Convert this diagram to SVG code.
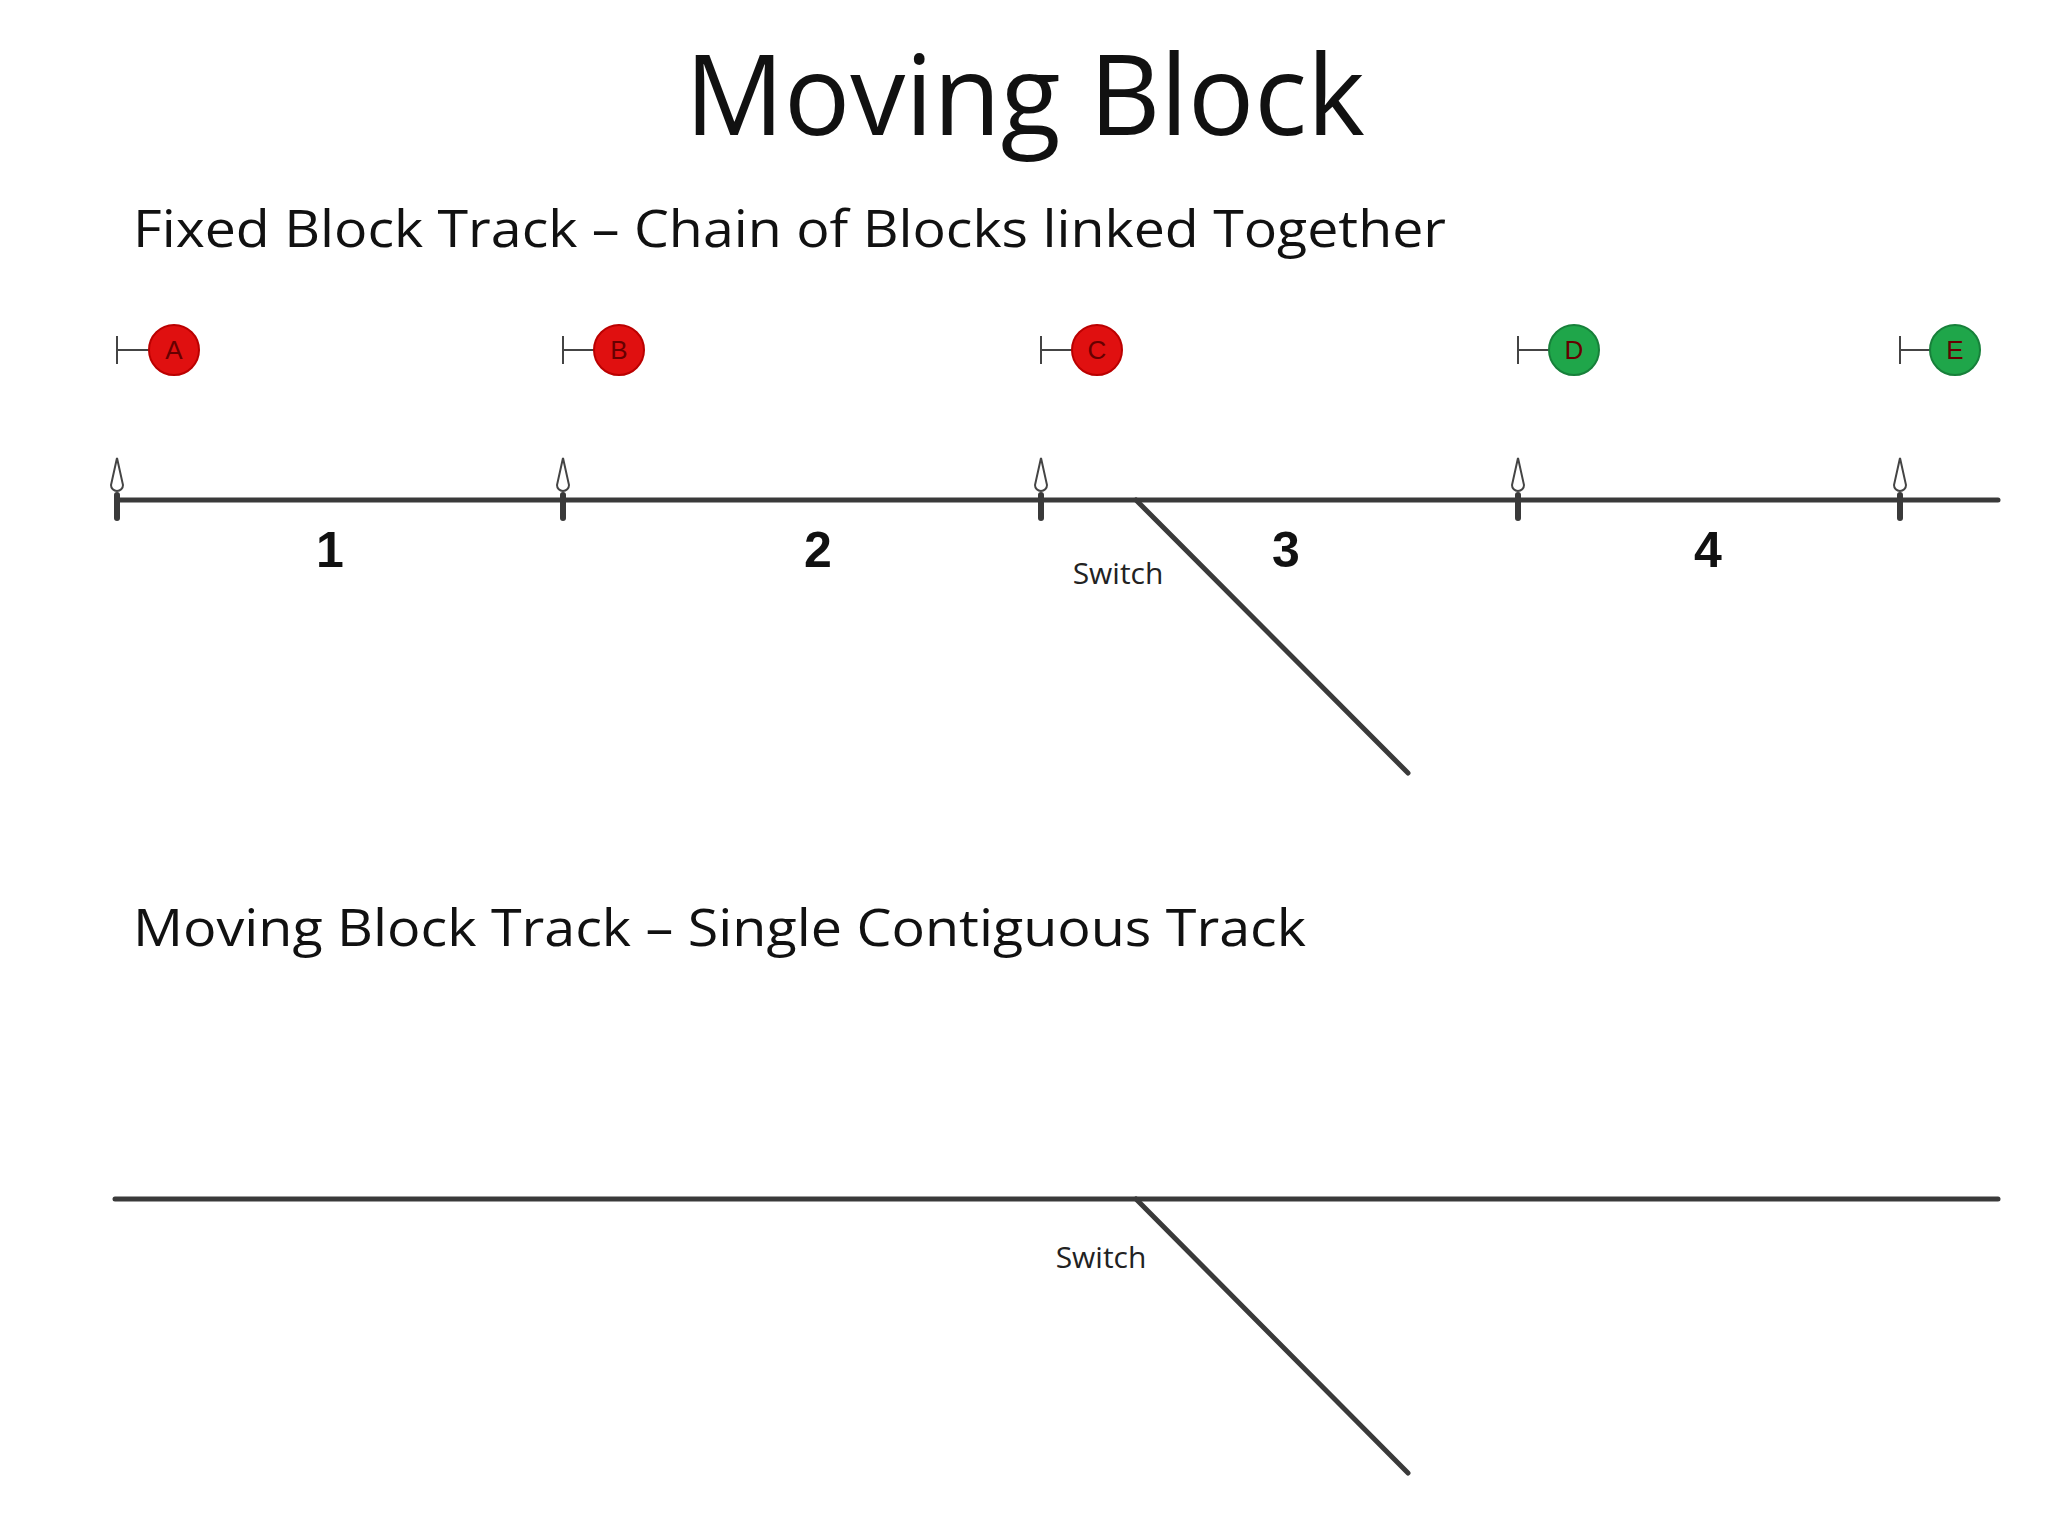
<svg xmlns="http://www.w3.org/2000/svg" width="2048" height="1536" viewBox="0 0 2048 1536">
<style>
.t{font-family:"Open Sans","Liberation Sans",sans-serif;fill:#111}
.trk{stroke:#3a3a3a;stroke-width:5;stroke-linecap:round;fill:none}
.thin{stroke:#444;stroke-width:2;fill:none}
.num{font-family:"Liberation Sans",sans-serif;font-weight:bold;font-size:50px;fill:#111;text-anchor:middle}
.sw{font-family:"Open Sans","Liberation Sans",sans-serif;font-size:30px;fill:#222;text-anchor:middle}
.sl{font-family:"Liberation Sans",sans-serif;font-size:26px;fill:#600;text-anchor:middle}
</style>
<defs>
<g id="sensor"><path d="M0,-42 L-6,-15 A6,6 0 1,0 6,-15 Z" class="thin" fill="#fff"/><line x1="0" y1="-5" x2="0" y2="18" stroke="#3a3a3a" stroke-width="6" stroke-linecap="round"/></g>
</defs>
<rect width="2048" height="1536" fill="#fff"/>
<text class="t" x="1025" y="135" font-size="112" text-anchor="middle" textLength="680" lengthAdjust="spacingAndGlyphs">Moving Block</text>
<text class="t" x="133" y="247" font-size="52" textLength="1313" lengthAdjust="spacingAndGlyphs" fill="#222">Fixed Block Track – Chain of Blocks linked Together</text>
<text class="t" x="133" y="946" font-size="52" textLength="1173" lengthAdjust="spacingAndGlyphs" fill="#222">Moving Block Track – Single Contiguous Track</text>
<g id="connectors">
<line class="trk" x1="117" y1="500" x2="1998" y2="500"/>
<line class="trk" x1="1136" y1="500" x2="1408" y2="773"/>
<line class="trk" x1="115" y1="1199" x2="1998" y2="1199"/>
<line class="trk" x1="1136" y1="1199" x2="1408" y2="1473"/>
</g>
<g id="sensors">
<use href="#sensor" x="117" y="500"/><use href="#sensor" x="563" y="500"/><use href="#sensor" x="1041" y="500"/><use href="#sensor" x="1518" y="500"/><use href="#sensor" x="1900" y="500"/>
</g>
<g id="signalA"><path d="M117,336V364M117,350H150" class="thin"/><circle cx="174" cy="350" r="25" fill="#e01010" stroke="#b00" stroke-width="2"/><text class="sl" x="174" y="359">A</text></g>
<g id="signalB"><path d="M563,336V364M563,350H595" class="thin"/><circle cx="619" cy="350" r="25" fill="#e01010" stroke="#b00" stroke-width="2"/><text class="sl" x="619" y="359">B</text></g>
<g id="signalC"><path d="M1041,336V364M1041,350H1073" class="thin"/><circle cx="1097" cy="350" r="25" fill="#e01010" stroke="#b00" stroke-width="2"/><text class="sl" x="1097" y="359">C</text></g>
<g id="signalD"><path d="M1518,336V364M1518,350H1550" class="thin"/><circle cx="1574" cy="350" r="25" fill="#1fa64a" stroke="#17803a" stroke-width="2"/><text class="sl" x="1574" y="359" fill="#063">D</text></g>
<g id="signalE"><path d="M1900,336V364M1900,350H1931" class="thin"/><circle cx="1955" cy="350" r="25" fill="#1fa64a" stroke="#17803a" stroke-width="2"/><text class="sl" x="1955" y="359" fill="#063">E</text></g>
<g id="labels">
<text class="num" x="330" y="567">1</text><text class="num" x="818" y="567">2</text><text class="num" x="1286" y="567">3</text><text class="num" x="1708" y="567">4</text>
<text class="sw" x="1118" y="584">Switch</text>
<text class="sw" x="1101" y="1268">Switch</text>
</g>
</svg>
